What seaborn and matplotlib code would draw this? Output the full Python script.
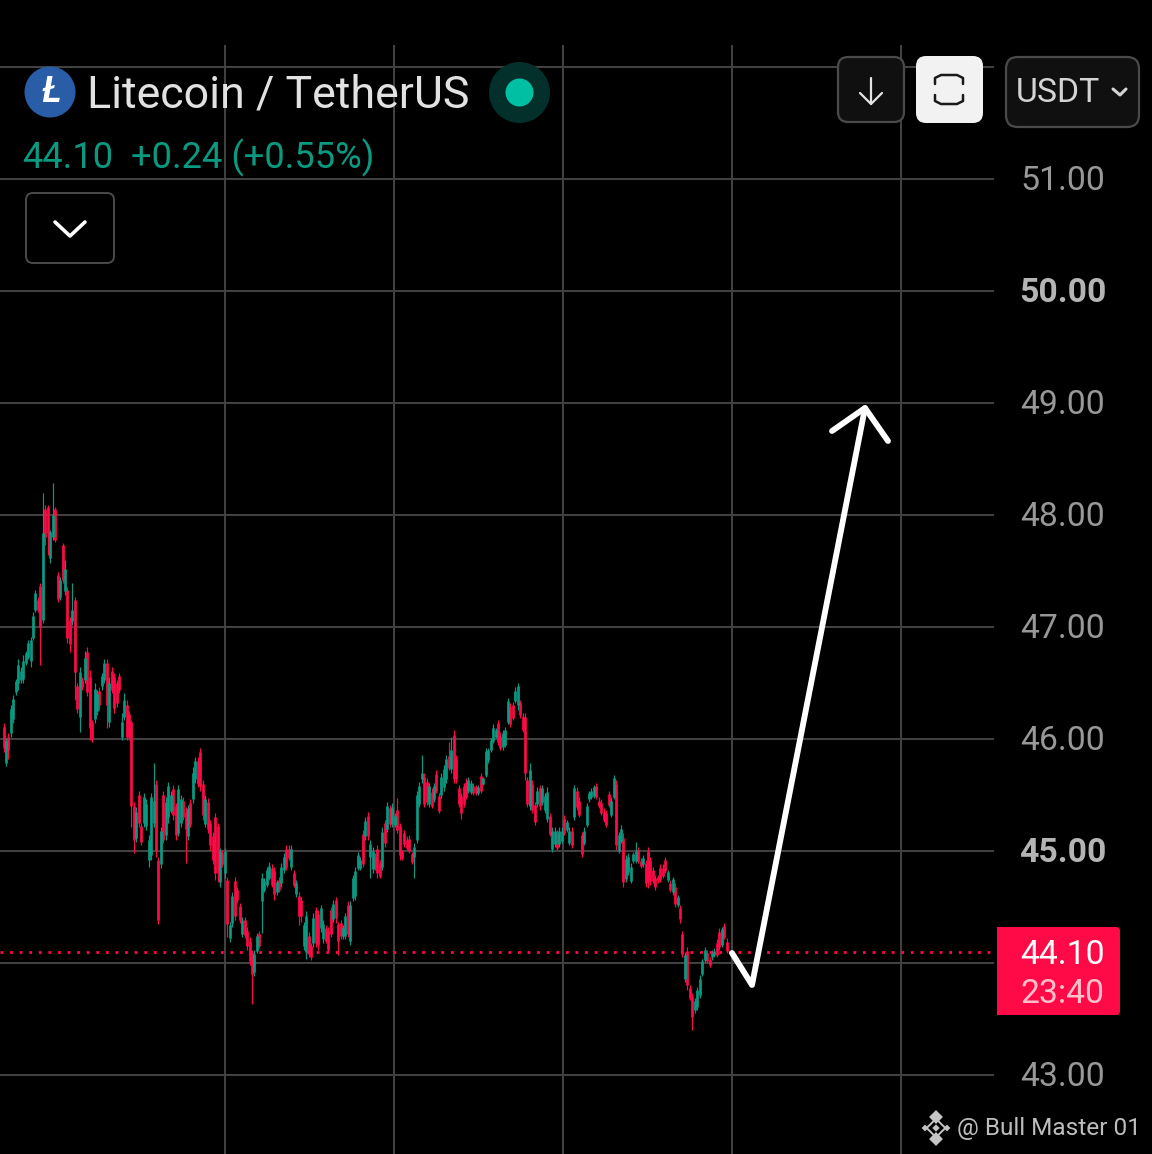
import numpy as np
import pandas as pd
import matplotlib.pyplot as plt
from matplotlib.patches import Circle, FancyBboxPatch, Rectangle
import seaborn as sns

# candles, left to right
highs = [
    46.14, 46.01, 46.05, 46.30, 46.39, 46.54, 46.71, 46.64, 46.75, 46.79,
    46.88, 46.91, 47.13, 47.33, 47.27, 47.39, 48.20, 48.09, 48.09, 47.87,
    48.29, 48.07, 47.49, 47.45, 47.75, 47.60, 47.36, 47.09, 47.39, 47.27,
    46.50, 46.64, 46.55, 46.79, 46.82, 46.62, 46.17, 46.50, 46.44, 46.46,
    46.59, 46.71, 46.71, 46.55, 46.64, 46.59, 46.53, 46.59, 46.23, 46.41,
    46.35, 46.25,
    46.17, 45.44, 45.39, 45.54, 45.25, 45.52, 45.46, 45.14, 45.52, 45.79,
    45.63, 44.95, 45.21, 45.54, 45.48, 45.62, 45.54, 45.59, 45.43, 45.59,
    45.50, 45.48, 45.39, 45.41, 45.46, 45.75, 45.84, 45.84, 45.92, 45.63,
    45.50, 45.47, 45.28, 45.17, 45.34, 45.25, 45.03, 45.01, 45.03, 44.77,
    44.37, 44.63, 44.77, 44.68, 44.54, 44.41, 44.41, 44.32, 44.23, 44.12,
    44.12, 44.27, 44.29, 44.80, 44.76, 44.86, 44.90, 44.88, 44.86, 44.74,
    44.77,
    44.89, 44.98, 45.05, 45.05, 45.05, 44.83, 44.74, 44.63, 44.59, 44.37,
    44.46, 44.28, 44.18, 44.45, 44.50, 44.47, 44.52, 44.38, 44.34, 44.32,
    44.50, 44.56, 44.59, 44.37, 44.38, 44.34, 44.45, 44.55, 44.55, 44.79,
    44.86, 44.99, 44.95, 45.19, 45.30, 45.35, 45.10, 45.04, 44.98, 45.05,
    44.92, 45.21, 45.28, 45.44, 45.41, 45.43, 45.34, 45.47, 45.25, 45.01,
    45.19, 45.13, 45.14, 44.99, 45.07, 45.54, 45.62, 45.86, 45.70, 45.65,
    45.61, 45.56, 45.61, 45.72, 45.52, 45.70, 45.77, 45.86, 45.97, 46.02,
    46.08, 45.86, 45.59, 45.52, 45.61, 45.65, 45.66, 45.63, 45.61, 45.59,
    45.59, 45.70, 45.66, 45.92, 45.92, 46.01, 46.13, 46.10, 46.17, 46.06,
    46.08, 46.11, 46.37, 46.32, 46.33, 46.46, 46.50, 46.35,
    46.23, 46.23, 45.66, 45.79, 45.63, 45.44, 45.57, 45.59, 45.59, 45.52,
    45.57, 45.34, 45.21, 45.21, 45.19, 45.21, 45.21, 45.32, 45.28, 45.21,
    45.21, 45.59, 45.57, 45.48, 45.17, 45.21, 45.43, 45.54, 45.56, 45.59,
    45.61, 45.48, 45.46, 45.38, 45.37, 45.54, 45.48, 45.68, 45.63, 45.17,
    45.23, 45.16, 44.96, 44.98, 44.89, 44.99, 45.08, 45.04, 44.94, 44.96,
    44.92, 45.04, 44.95, 44.86, 44.79, 44.79, 44.88, 44.88, 44.95, 44.83,
    44.74, 44.77, 44.71, 44.61, 44.52, 44.29, 44.10, 44.14, 43.80, 43.73,
    43.69, 43.79, 43.89, 44.04, 44.14, 44.12, 44.05, 44.12, 44.13, 44.21,
    44.31, 44.32, 44.36, 44.22,
]
lows = [
    45.88, 45.76, 45.82, 46.02, 46.14, 46.39, 46.44, 46.50, 46.50, 46.66,
    46.71, 46.64, 46.88, 47.13, 47.13, 46.66, 47.04, 47.73, 47.64, 47.57,
    47.78, 47.76, 47.22, 47.24, 47.39, 47.29, 46.86, 46.78, 47.02, 46.35,
    46.23, 46.06, 46.44, 46.50, 46.38, 45.99, 45.97, 46.14, 46.21, 46.26,
    46.44, 46.50, 46.10, 46.11, 46.41, 46.23, 46.29, 46.41, 45.99, 46.17,
    45.99, 45.99,
    45.21, 44.98, 45.08, 45.21, 45.05, 45.21, 45.19, 44.86, 44.92, 45.21,
    44.95, 44.35, 44.85, 45.07, 45.10, 45.25, 45.34, 45.28, 45.10, 45.13,
    45.21, 45.28, 44.89, 45.10, 45.21, 45.43, 45.61, 45.57, 45.54, 45.28,
    45.21, 45.16, 45.01, 44.88, 44.74, 44.72, 44.68, 44.86, 44.76, 44.23,
    44.19, 44.32, 44.38, 44.54, 44.36, 44.23, 44.22, 44.12, 43.98, 43.63,
    43.88, 44.09, 44.13, 44.27, 44.63, 44.68, 44.74, 44.68, 44.56, 44.61,
    44.63,
    44.68, 44.80, 44.83, 44.92, 44.83, 44.68, 44.59, 44.34, 44.37, 44.12,
    44.04, 44.05, 44.03, 44.14, 44.14, 44.12, 44.28, 44.18, 44.18, 44.09,
    44.23, 44.37, 44.36, 44.07, 44.21, 44.21, 44.21, 44.23, 44.16, 44.55,
    44.56, 44.83, 44.83, 44.86, 45.10, 45.10, 44.76, 44.80, 44.83, 44.76,
    44.76, 44.83, 45.04, 45.17, 45.21, 45.21, 45.21, 45.16, 44.92, 44.92,
    45.04, 45.01, 44.98, 44.88, 44.76, 45.07, 45.39, 45.61, 45.39, 45.41,
    45.39, 45.38, 45.44, 45.52, 45.34, 45.47, 45.54, 45.61, 45.72, 45.70,
    45.61, 45.61, 45.39, 45.29, 45.39, 45.46, 45.52, 45.51, 45.50, 45.50,
    45.50, 45.52, 45.59, 45.66, 45.79, 45.88, 45.96, 46.01, 45.95, 45.90,
    45.90, 45.93, 46.13, 46.11, 46.17, 46.32, 46.26, 46.19,
    46.06, 45.63, 45.39, 45.37, 45.34, 45.23, 45.39, 45.37, 45.41, 45.34,
    45.26, 45.13, 44.99, 45.04, 45.01, 45.04, 45.07, 45.14, 45.17, 45.05,
    45.03, 45.28, 45.37, 45.30, 44.95, 45.05, 45.21, 45.44, 45.46, 45.47,
    45.46, 45.38, 45.32, 45.26, 45.21, 45.39, 45.30, 45.46, 45.01, 44.98,
    45.07, 44.68, 44.72, 44.79, 44.71, 44.89, 44.89, 44.89, 44.85, 44.86,
    44.68, 44.67, 44.70, 44.71, 44.65, 44.71, 44.72, 44.76, 44.80, 44.72,
    44.63, 44.61, 44.50, 44.50, 44.36, 44.05, 43.83, 43.76, 43.67, 43.40,
    43.55, 43.58, 43.69, 43.88, 44.01, 44.00, 43.96, 44.03, 44.05, 44.05,
    44.12, 44.14, 44.21, 44.09,
]
opens = [
    46.11, 45.79, 46.02, 46.05, 46.18, 46.42, 46.50, 46.53, 46.54, 46.68,
    46.73, 46.70, 46.90, 47.15, 47.24, 47.37, 47.06, 48.05, 48.07, 47.62,
    47.80, 48.05, 47.46, 47.27, 47.73, 47.32, 47.33, 47.06, 47.05, 47.24,
    46.47, 46.20, 46.53, 46.53, 46.78, 46.55, 46.15, 46.18, 46.25, 46.43,
    46.47, 46.53, 46.68, 46.15, 46.61, 46.55, 46.50, 46.56, 46.02, 46.20,
    46.30, 46.22,
    46.15, 45.40, 45.12, 45.50, 45.22, 45.25, 45.22, 44.92, 44.96, 45.25,
    45.60, 44.92, 44.88, 45.50, 45.14, 45.30, 45.36, 45.55, 45.40, 45.16,
    45.25, 45.45, 45.35, 45.13, 45.43, 45.46, 45.64, 45.80, 45.88, 45.60,
    45.24, 45.44, 45.25, 45.13, 45.30, 45.22, 44.72, 44.98, 44.80, 44.74,
    44.22, 44.36, 44.73, 44.65, 44.51, 44.26, 44.38, 44.29, 44.20, 44.10,
    43.92, 44.11, 44.26, 44.55, 44.65, 44.70, 44.76, 44.85, 44.82, 44.63,
    44.74,
    44.71, 44.83, 45.02, 45.02, 44.86, 44.80, 44.62, 44.60, 44.56, 44.15,
    44.10, 44.24, 44.15, 44.18, 44.47, 44.44, 44.31, 44.21, 44.31, 44.29,
    44.47, 44.39, 44.56, 44.35, 44.36, 44.24, 44.24, 44.52, 44.20, 44.58,
    44.60, 44.85, 44.85, 45.15, 45.13, 45.31, 44.95, 44.84, 44.95, 45.02,
    44.89, 44.86, 45.25, 45.20, 45.38, 45.24, 45.23, 45.37, 45.22, 44.99,
    45.16, 45.10, 45.11, 44.97, 44.95, 45.10, 45.42, 45.64, 45.66, 45.62,
    45.42, 45.53, 45.46, 45.69, 45.49, 45.50, 45.57, 45.64, 45.85, 45.73,
    46.04, 45.83, 45.56, 45.49, 45.58, 45.62, 45.54, 45.53, 45.58, 45.57,
    45.52, 45.67, 45.60, 45.68, 45.81, 45.90, 45.98, 46.02, 46.14, 46.03,
    45.93, 45.95, 46.15, 46.29, 46.30, 46.34, 46.30, 46.32,
    46.20, 46.20, 45.63, 45.40, 45.60, 45.41, 45.42, 45.56, 45.44, 45.37,
    45.29, 45.31, 45.02, 45.06, 45.16, 45.06, 45.09, 45.29, 45.19, 45.07,
    45.18, 45.30, 45.54, 45.45, 45.14, 45.07, 45.23, 45.46, 45.48, 45.49,
    45.58, 45.45, 45.43, 45.35, 45.34, 45.51, 45.32, 45.48, 45.60, 45.00,
    45.09, 45.12, 44.75, 44.81, 44.73, 44.91, 44.91, 45.01, 44.91, 44.88,
    44.89, 45.00, 44.92, 44.83, 44.76, 44.77, 44.85, 44.85, 44.92, 44.74,
    44.71, 44.63, 44.68, 44.52, 44.49, 44.26, 43.86, 44.11, 43.78, 43.70,
    43.58, 43.61, 43.71, 43.90, 44.03, 44.09, 44.03, 44.05, 44.07, 44.18,
    44.28, 44.16, 44.33, 44.19,
]
closes = [
    45.92, 45.98, 45.90, 46.27, 46.36, 46.52, 46.66, 46.61, 46.70, 46.77,
    46.86, 46.88, 47.10, 47.30, 47.15, 47.00, 47.84, 47.80, 47.84, 47.85,
    48.00, 47.78, 47.25, 47.42, 47.42, 47.52, 46.90, 46.85, 47.15, 46.60,
    46.27, 46.60, 46.46, 46.72, 46.42, 46.10, 46.00, 46.45, 46.40, 46.30,
    46.56, 46.68, 46.30, 46.50, 46.44, 46.28, 46.32, 46.44, 46.15, 46.35,
    46.02, 46.02,
    45.40, 45.10, 45.35, 45.25, 45.08, 45.48, 45.42, 45.10, 45.48, 45.45,
    45.00, 44.38, 45.18, 45.10, 45.44, 45.58, 45.50, 45.32, 45.14, 45.55,
    45.46, 45.30, 45.20, 45.38, 45.24, 45.70, 45.80, 45.60, 45.58, 45.32,
    45.46, 45.20, 45.05, 44.92, 44.80, 44.80, 45.00, 44.88, 45.00, 44.35,
    44.34, 44.60, 44.42, 44.56, 44.38, 44.38, 44.25, 44.15, 44.02, 43.90,
    44.08, 44.24, 44.15, 44.76, 44.73, 44.83, 44.87, 44.70, 44.62, 44.72,
    44.65,
    44.86, 44.95, 44.86, 44.94, 45.02, 44.70, 44.71, 44.42, 44.42, 44.34,
    44.42, 44.08, 44.05, 44.40, 44.18, 44.16, 44.49, 44.35, 44.20, 44.12,
    44.26, 44.53, 44.40, 44.20, 44.24, 44.31, 44.42, 44.26, 44.52, 44.76,
    44.82, 44.96, 44.92, 44.88, 45.27, 45.13, 45.06, 45.00, 44.85, 44.80,
    44.78, 45.17, 45.07, 45.40, 45.24, 45.39, 45.31, 45.19, 44.96, 44.94,
    45.06, 45.03, 45.00, 44.90, 45.04, 45.50, 45.58, 45.70, 45.42, 45.44,
    45.58, 45.40, 45.58, 45.54, 45.36, 45.66, 45.73, 45.82, 45.74, 45.90,
    45.64, 45.64, 45.42, 45.34, 45.42, 45.48, 45.63, 45.61, 45.52, 45.52,
    45.57, 45.54, 45.65, 45.89, 45.90, 45.99, 46.10, 46.08, 45.97, 45.92,
    46.05, 46.08, 46.34, 46.13, 46.19, 46.43, 46.47, 46.21,
    46.08, 45.70, 45.42, 45.72, 45.37, 45.26, 45.54, 45.40, 45.56, 45.49,
    45.53, 45.15, 45.18, 45.18, 45.03, 45.18, 45.18, 45.16, 45.26, 45.18,
    45.05, 45.56, 45.39, 45.32, 44.97, 45.18, 45.40, 45.52, 45.54, 45.57,
    45.48, 45.40, 45.34, 45.28, 45.23, 45.41, 45.45, 45.65, 45.05, 45.14,
    45.20, 44.72, 44.93, 44.95, 44.86, 44.97, 45.00, 44.91, 44.87, 44.94,
    44.71, 44.72, 44.73, 44.73, 44.68, 44.73, 44.74, 44.78, 44.82, 44.81,
    44.65, 44.75, 44.53, 44.59, 44.39, 44.08, 44.07, 43.80, 43.69, 43.52,
    43.66, 43.76, 43.86, 44.02, 44.12, 44.02, 43.98, 44.10, 44.11, 44.07,
    44.14, 44.30, 44.23, 44.11,
]

price_ticks = [51, 50, 49, 48, 47, 46, 45, 43]
bold_ticks = [50, 45]
grid_prices = [52, 51, 50, 49, 48, 47, 46, 45, 44, 43]
last_price = 44.10

GREEN = "#0A9A82"
RED = "#FF0A47"
GRID = "#434343"
W, H = 1152, 1154
BAR_PX = 2.46  # candle spacing in pixels
GRID_PX = [225, 394, 563, 732, 901]

sns.set_theme(style="dark", rc={"axes.facecolor": "black", "figure.facecolor": "black"})
plt.rcParams["font.family"] = ["Roboto", "DejaVu Sans"]

candles = pd.DataFrame({"high": highs, "low": lows, "open": opens, "close": closes})
candles["bar"] = np.arange(len(candles))
candles["direction"] = np.where(candles["close"] >= candles["open"], "up", "down")
palette = {"up": GREEN, "down": RED}

wicks = candles.melt(id_vars=["bar", "direction"], value_vars=["high", "low"], value_name="price")
bodies = candles.melt(id_vars=["bar", "direction"], value_vars=["open", "close"], value_name="price")

fig = plt.figure(figsize=(W / 100, H / 100), dpi=100)
ax = fig.add_axes([0, 0, 1, 1])

# grid under the candles, stops at the price scale
bar_of_px = lambda px: (px - 3.5) / BAR_PX
ax.hlines(grid_prices, bar_of_px(0), bar_of_px(994), color=GRID, lw=1.4, zorder=1)
price_of_y = lambda y: 51 - (y - 179) / 112
ax.vlines([bar_of_px(p) for p in GRID_PX], price_of_y(1154), price_of_y(45), color=GRID, lw=1.4, zorder=1)

sns.lineplot(data=wicks, x="bar", y="price", hue="direction", units="bar", estimator=None,
             palette=palette, lw=0.85, legend=False, ax=ax, solid_capstyle="butt", zorder=2)
sns.lineplot(data=bodies, x="bar", y="price", hue="direction", units="bar", estimator=None,
             palette=palette, lw=1.95, legend=False, ax=ax, solid_capstyle="butt", zorder=3)

ax.plot([bar_of_px(0), bar_of_px(993)], [last_price, last_price], color=RED, lw=2.0,
        linestyle=(0, (1, 2.45)), zorder=4)

ax.set_xlim(bar_of_px(0), bar_of_px(W))
ax.set_ylim(price_of_y(H), price_of_y(0))
ax.set_axis_off()

# overlay in picture pixels for the app chrome
ui = fig.add_axes([0, 0, 1, 1], facecolor="none")
ui.set_xlim(0, W)
ui.set_ylim(H, 0)
ui.set_axis_off()


def box(x0, y0, x1, y1, face, edge="none", r=8, lw=1.4):
    ui.add_patch(FancyBboxPatch((x0 + r, y0 + r), x1 - x0 - 2 * r, y1 - y0 - 2 * r,
                                boxstyle=f"round,pad={r},rounding_size={r}",
                                fc=face, ec=edge, lw=lw))


def stroke(xs, ys, color="white", lw=2.0):
    ui.plot(xs, ys, color=color, lw=lw, solid_capstyle="round", solid_joinstyle="round")


# price labels
for p in price_ticks:
    bold = p in bold_ticks
    ui.text(1062.5, 181 + (51 - p) * 112, f"{p:.2f}", ha="center", va="center", fontsize=24.3,
            color="#B4B4B4" if bold else "#989898", fontweight="bold" if bold else "normal")

# last price tag
box(997, 927, 1120, 1015, RED, r=4)
ui.add_patch(Rectangle((997, 927), 20, 88, fc=RED, ec="none"))
ui.text(1062.5, 955, "44.10", ha="center", va="center", fontsize=24.3, color="white")
ui.text(1062.5, 994, "23:40", ha="center", va="center", fontsize=24.3, color="#FFBFCB")

# header
ui.add_patch(Circle((50, 92), 25.5, fc="#2A5DA8", ec="none"))
ui.text(51, 92, "Ł", ha="center", va="center", fontsize=26, color="white",
        fontweight="bold", fontstyle="italic")
ui.text(87, 95, "Litecoin / TetherUS", ha="left", va="center", fontsize=32.2, color="#E2E2E2")
ui.add_patch(Circle((519.5, 92.5), 30.5, fc="#04302B", ec="none"))
ui.add_patch(Circle((519.5, 92.5), 14, fc="#00BFA3", ec="none"))
ui.text(22, 158, "44.10", ha="left", va="center", fontsize=26.1, color=GREEN)
ui.text(131, 158, "+0.24 (+0.55%)", ha="left", va="center", fontsize=26.1, color=GREEN)

box(26, 193, 114, 263, "black", "#4A4A4A", r=7)
stroke([55, 70, 85], [222, 236, 222], lw=2.6)

# right buttons
box(838, 57, 904, 122, "#101010", "#4A4A4A", r=10, lw=1.6)
stroke([871, 871], [78, 104], "#E4E4E4", lw=1.6)
stroke([860, 871, 882], [93, 104, 93], "#E4E4E4", lw=1.6)
box(916, 56, 983, 123, "#F2F2F2", r=10)
stroke([935, 935, 941, 957, 963, 963], [84, 78, 75, 75, 78, 84], "#1A1A1A", lw=1.8)
stroke([935, 935, 941, 957, 963, 963], [95, 101, 104, 104, 101, 95], "#1A1A1A", lw=1.8)
box(1006, 57, 1139, 127, "#101010", "#4A4A4A", r=12, lw=1.6)
ui.text(1058, 93, "USDT", ha="center", va="center", fontsize=24.3, color="#D4D4D4")
stroke([1113, 1120, 1126], [89, 95, 89], "#D4D4D4", lw=2.2)

# hand drawn forecast arrow
stroke([732, 752, 865], [953, 985, 408], "white", lw=4.2)
stroke([832, 865, 888], [431, 408, 441], "white", lw=4.2)

# watermark
ui.scatter([936, 936, 936, 925, 947], [1128, 1117, 1139, 1128, 1128], marker="D",
           s=[14, 50, 50, 12, 12], c="#C4C4C4", linewidths=0)
ui.scatter([936], [1128], marker="D", s=[90], facecolors="none", edgecolors="#C4C4C4", linewidths=1.4)
ui.text(957, 1129, "@ Bull Master 01", ha="left", va="center", fontsize=17.6, color="#BDBDBD")

fig.savefig("out.png", dpi=100, facecolor="black")
plt.close(fig)
